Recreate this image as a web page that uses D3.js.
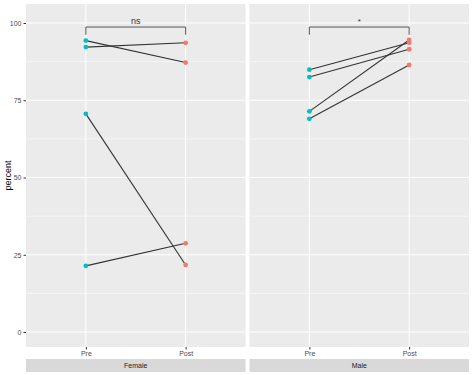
<!DOCTYPE html>
<html>
<head>
	<meta charset="utf-8">
	<title>Pre / Post</title>
	<script src="https://cdn.jsdelivr.net/npm/d3@7"></script>
	<style>
		body { margin: 0; background: #fff; font-family: "Liberation Sans", Arial, sans-serif; }
	</style>
</head>
<body>
	<div id="chart"></div>
	<script>

	// data
	const groups   = ["Female", "Male"];
	const times    = ["Pre", "Post"];
	const femalePre  = [94.3, 92.2, 70.6, 21.4];
	const femalePost = [87.2, 93.6, 21.7, 28.7];
	const malePre    = [84.9, 82.5, 71.4, 69.0];
	const malePost   = [93.6, 91.5, 94.5, 86.4];
	const signif     = ["ns", "*"];
	const yTicks     = [0, 25, 50, 75, 100];
	const bracketY   = 98.7;
	const bracketLeg = 96.2;

	const width  = 474;
	const height = 375;
	const colors = { Pre: "#00BFC4", Post: "#F8766D" };

	const panelTop = 4, panelBottom = 347, panelW = 219.5, gap = 4, left0 = 26;

	const svg = d3.select("#chart").append("svg")
		.attr("width", width)
		.attr("height", height);

	const y = d3.scaleLinear().domain([0, 100]).range([332, 23]);

	const series = [
		{ pre: femalePre, post: femalePost },
		{ pre: malePre, post: malePost }
	];

	groups.forEach((g, gi) => {
		const x0 = left0 + gi * (panelW + gap);
		const x = d3.scalePoint().domain(times).range([x0, x0 + panelW]).padding(0.6);
		const p = svg.append("g");

		p.append("rect")
			.attr("x", x0).attr("y", panelTop)
			.attr("width", panelW).attr("height", panelBottom - panelTop)
			.attr("fill", "#EBEBEB");

		// minor grid
		p.selectAll(".minor").data([12.5, 37.5, 62.5, 87.5]).join("line")
			.attr("x1", x0).attr("x2", x0 + panelW)
			.attr("y1", d => y(d)).attr("y2", d => y(d))
			.attr("stroke", "#fff").attr("stroke-width", 0.5);
		p.selectAll(".major").data(yTicks).join("line")
			.attr("x1", x0).attr("x2", x0 + panelW)
			.attr("y1", d => y(d)).attr("y2", d => y(d))
			.attr("stroke", "#fff").attr("stroke-width", 1);
		p.selectAll(".vgrid").data(times).join("line")
			.attr("x1", d => x(d)).attr("x2", d => x(d))
			.attr("y1", panelTop).attr("y2", panelBottom)
			.attr("stroke", "#fff").attr("stroke-width", 1);

		// lines
		const s = series[gi];
		const pairs = s.pre.map((v, i) => [v, s.post[i]]);
		p.selectAll(".pair").data(pairs).join("line")
			.attr("x1", x("Pre")).attr("x2", x("Post"))
			.attr("y1", d => y(d[0])).attr("y2", d => y(d[1]))
			.attr("stroke", "#333").attr("stroke-width", 1.1);

		p.selectAll(".pt-pre").data(s.pre).join("circle")
			.attr("cx", x("Pre")).attr("cy", d => y(d)).attr("r", 2.4)
			.attr("fill", colors.Pre);
		p.selectAll(".pt-post").data(s.post).join("circle")
			.attr("cx", x("Post")).attr("cy", d => y(d)).attr("r", 2.4)
			.attr("fill", colors.Post);

		// significance bracket
		p.append("path")
			.attr("d", `M${x("Pre")},${y(bracketLeg)}V${y(bracketY)}H${x("Post")}V${y(bracketLeg)}`)
			.attr("fill", "none").attr("stroke", "#555").attr("stroke-width", 1);
		p.append("text")
			.attr("x", (x("Pre") + x("Post")) / 2)
			.attr("y", y(bracketY) - 3)
			.attr("text-anchor", "middle")
			.attr("font-size", signif[gi] === "*" ? 8 : 9)
			.attr("fill", "#333")
			.text(signif[gi]);

		// x axis
		const xa = svg.append("g")
			.attr("transform", `translate(0,${panelBottom})`)
			.call(d3.axisBottom(x).tickSize(2.5).tickPadding(2));
		xa.select(".domain").remove();
		xa.selectAll("line").attr("stroke", "#333");
		xa.selectAll("text").attr("fill", "#4D4D4D").attr("font-size", 7)
			.attr("font-family", "Liberation Sans, Arial, sans-serif");

		// strip
		svg.append("rect")
			.attr("x", x0).attr("y", 359)
			.attr("width", panelW).attr("height", 13)
			.attr("fill", "#D9D9D9");
		svg.append("text")
			.attr("x", x0 + panelW / 2).attr("y", 365.5)
			.attr("dy", "0.35em")
			.attr("text-anchor", "middle")
			.attr("font-size", 7).attr("fill", "#1A1A1A")
			.text(g);
	});

	// y axis
	const ya = svg.append("g")
		.attr("transform", `translate(${left0},0)`)
		.call(d3.axisLeft(y).tickValues(yTicks).tickSize(2.5).tickPadding(2));
	ya.select(".domain").remove();
	ya.selectAll("line").attr("stroke", "#333");
	ya.selectAll("text").attr("fill", "#4D4D4D").attr("font-size", 7)
		.attr("font-family", "Liberation Sans, Arial, sans-serif");

	svg.append("text")
		.attr("transform", `translate(8,${(panelTop + panelBottom) / 2}) rotate(-90)`)
		.attr("text-anchor", "middle")
		.attr("dy", "0.35em")
		.attr("font-size", 9).attr("fill", "#000")
		.text("percent");

	</script>
</body>
</html>
